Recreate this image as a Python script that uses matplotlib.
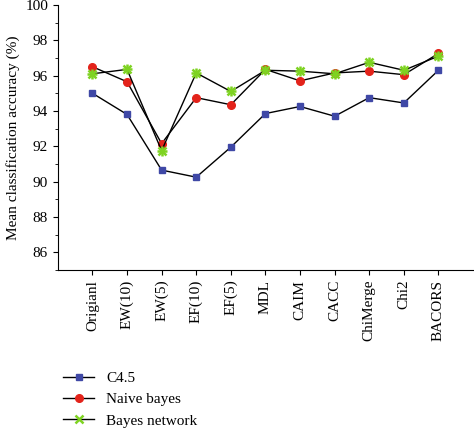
import matplotlib
matplotlib.use("Agg")
import matplotlib.pyplot as plt
from matplotlib.ticker import MultipleLocator

categories = ["Origianl", "EW(10)", "EW(5)", "EF(10)", "EF(5)", "MDL", "CAIM", "CACC", "ChiMerge", "Chi2", "BACORS"]
c45 = [95.0, 93.8, 90.65, 90.25, 91.95, 93.85, 94.25, 93.7, 94.75, 94.45, 96.3]
naive = [96.5, 95.65, 92.15, 94.75, 94.35, 96.35, 95.7, 96.15, 96.25, 96.05, 97.25]
bayesnet = [96.1, 96.35, 91.75, 96.15, 95.1, 96.3, 96.25, 96.1, 96.75, 96.3, 97.1]

plt.rcParams['font.family'] = ['Liberation Serif', 'DejaVu Serif']
fig = plt.figure(figsize=(4.74, 4.44), dpi=100)
ax = fig.add_axes([0.122, 0.392, 0.876, 0.597])
x = list(range(len(categories)))
ax.plot(x, c45, '-s', color='black', lw=1, mfc='#3f48a6', mec='#3f48a6', ms=5, label='C4.5')
ax.plot(x, naive, '-o', color='black', lw=1, mfc='#e3231b', mec='#e3231b', ms=5.5, label='Naive bayes')
ax.plot(x, bayesnet, '-x', color='black', lw=1, mfc='#7ed321', mec='#7ed321', mew=1.8, ms=6, label='Bayes network')
ax.plot(x, bayesnet, '+', color='#7ed321', mew=1.8, ms=7)
ax.set_xlim(-1, 11)
ax.set_ylim(85, 100)
ax.yaxis.set_major_locator(MultipleLocator(2))
ax.yaxis.set_minor_locator(MultipleLocator(1))
ax.set_xticks(x)
ax.set_xticklabels(categories, rotation=90, fontsize=11)
ax.tick_params(axis='y', labelsize=11)
ax.set_ylabel('Mean classification accuracy (%)', fontsize=11)
for s in ['top', 'right']:
    ax.spines[s].set_visible(False)
ax.legend(loc='upper left', bbox_to_anchor=(-0.02, -0.33), frameon=False, fontsize=11,
          handlelength=2.0, labelspacing=0.5)
fig.savefig('out.png', dpi=100)
